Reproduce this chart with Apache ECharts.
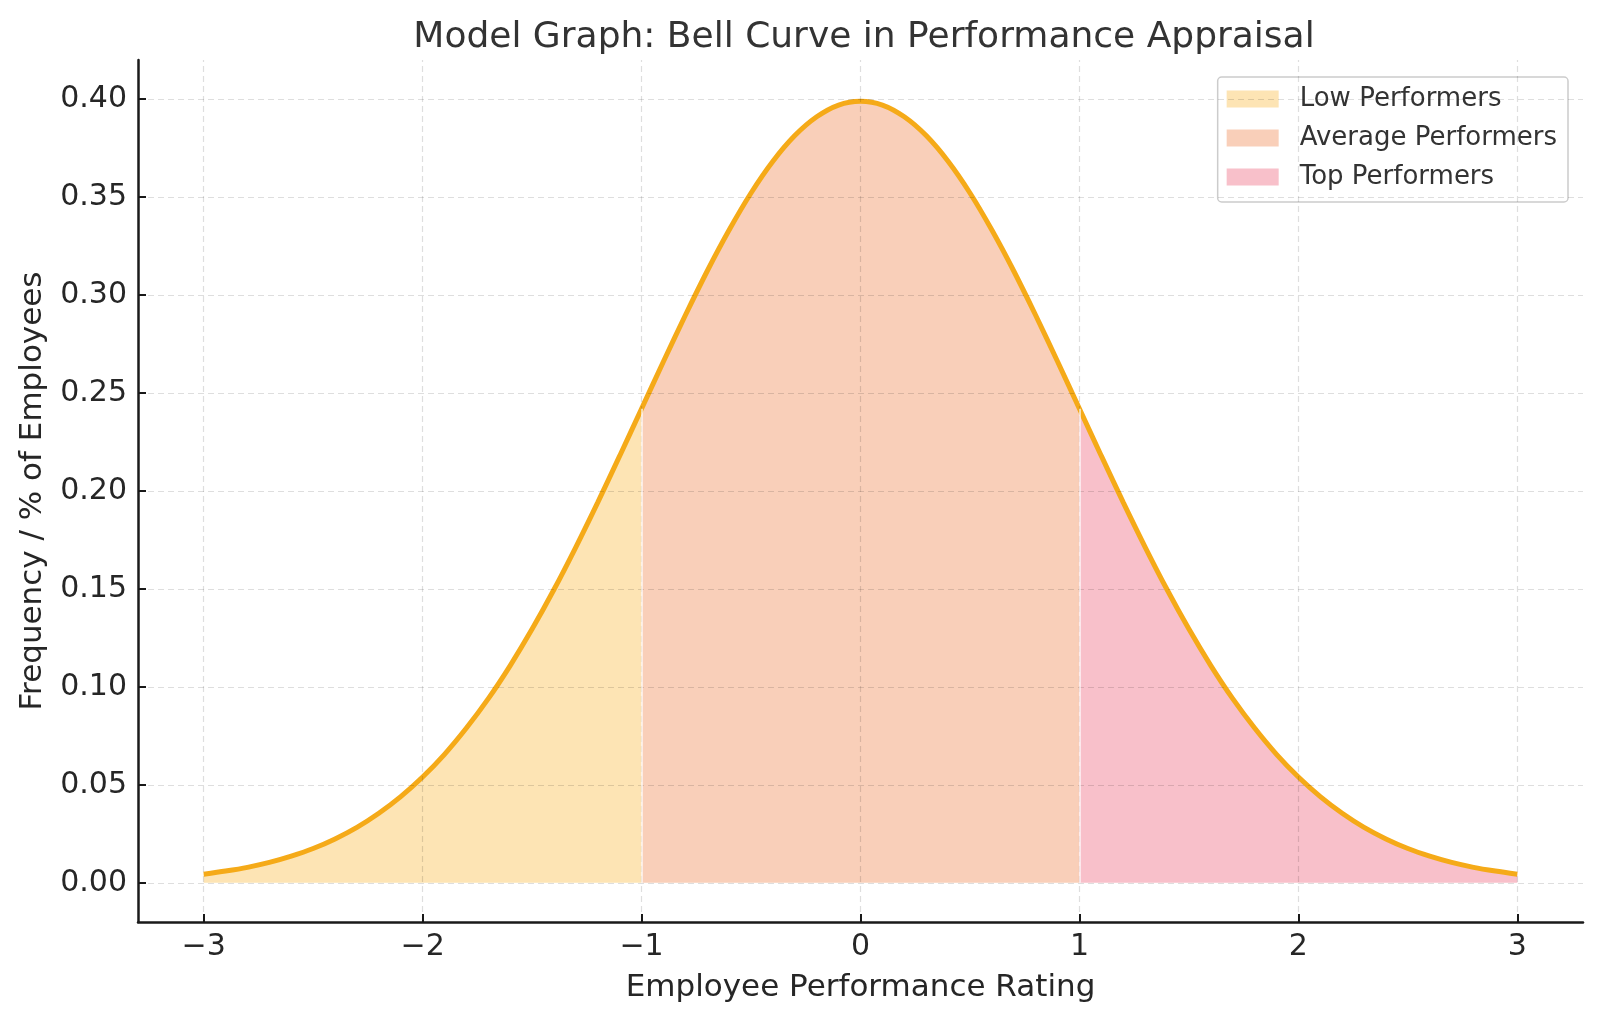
<!DOCTYPE html>
<html>
<head>
<meta charset="utf-8">
<script src="https://cdn.jsdelivr.net/npm/echarts@6/dist/echarts.min.js"></script>
<style>
html,body{margin:0;padding:0;background:#fff;}
#chart{width:1600px;height:1022px;}
</style>
</head>
<body>
<div id="chart"></div>
<script>
// Employee performance rating (x) and share of employees (y)
const ratings = [-3.0,-2.9,-2.8,-2.7,-2.6,-2.5,-2.4,-2.3,-2.2,-2.1,-2.0,-1.9,-1.8,-1.7,-1.6,-1.5,-1.4,-1.3,-1.2,-1.1,-1.0,
  -0.9,-0.8,-0.7,-0.6,-0.5,-0.4,-0.3,-0.2,-0.1,0.0,0.1,0.2,0.3,0.4,0.5,0.6,0.7,0.8,0.9,1.0,
  1.1,1.2,1.3,1.4,1.5,1.6,1.7,1.8,1.9,2.0,2.1,2.2,2.3,2.4,2.5,2.6,2.7,2.8,2.9,3.0];
const density = [0.0044,0.0060,0.0079,0.0104,0.0136,0.0175,0.0224,0.0283,0.0355,0.0440,0.0540,0.0656,0.0790,0.0940,0.1109,0.1295,0.1497,0.1714,0.1942,0.2179,0.2420,
  0.2661,0.2897,0.3123,0.3332,0.3521,0.3683,0.3814,0.3910,0.3970,0.3989,0.3970,0.3910,0.3814,0.3683,0.3521,0.3332,0.3123,0.2897,0.2661,0.2420,
  0.2179,0.1942,0.1714,0.1497,0.1295,0.1109,0.0940,0.0790,0.0656,0.0540,0.0440,0.0355,0.0283,0.0224,0.0175,0.0136,0.0104,0.0079,0.0060,0.0044];
const groupNames = ['Low Performers', 'Average Performers', 'Top Performers'];
const groupBounds = [-1, 1];          // rating boundaries between groups
const xTicks = [-3, -2, -1, 0, 1, 2, 3];
const yTicks = [0, 0.05, 0.10, 0.15, 0.20, 0.25, 0.30, 0.35, 0.40];

const points = ratings.map((x, i) => [x, density[i]]);
const iLow = ratings.indexOf(groupBounds[0]);
const iHigh = ratings.indexOf(groupBounds[1]);
const groupData = [points.slice(0, iLow + 1), points.slice(iLow, iHigh + 1), points.slice(iHigh)];
const fillColors = ['rgba(251,201,105,0.5)', 'rgba(243,159,115,0.5)', 'rgba(241,129,149,0.5)'];

const FONT = "'DejaVu Sans', sans-serif";
const TXT = '#262626';

const fillSeries = groupNames.map((name, k) => ({
  name: name,
  type: 'line',
  data: groupData[k],
  symbol: 'none',
  silent: true,
  z: 1,
  lineStyle: { width: 0, color: fillColors[k] },
  itemStyle: { color: fillColors[k] },
  areaStyle: { color: fillColors[k], opacity: 1, origin: 0 }
}));

const gridLineStyle = { type: [6, 4], color: 'rgba(0,0,0,0.13)', width: 1.2 };
const gridMarks = [
  ...xTicks.map(v => ({ xAxis: v, lineStyle: gridLineStyle })),
  ...yTicks.map(v => ({ yAxis: v, lineStyle: gridLineStyle })),
  ...groupBounds.map(b => [
    { coord: [b, 0], lineStyle: { type: 'solid', color: 'rgba(255,255,255,0.85)', width: 1.5 } },
    { coord: [b, density[ratings.indexOf(b)]] }
  ])
];

const option = {
  animation: false,
  backgroundColor: '#ffffff',
  title: {
    text: 'Model Graph: Bell Curve in Performance Appraisal',
    left: 859,
    top: 15,
    textAlign: 'center',
    textStyle: { fontFamily: FONT, fontSize: 36, fontWeight: 'normal', color: '#333333' }
  },
  legend: {
    data: groupNames,
    orient: 'vertical',
    right: 32,
    top: 77,
    icon: 'rect',
    itemWidth: 52,
    itemHeight: 17,
    itemGap: 13,
    padding: [9, 11, 12, 9],
    borderColor: '#cccccc',
    borderWidth: 1.5,
    borderRadius: 4,
    backgroundColor: 'rgba(255,255,255,0.8)',
    textStyle: { fontFamily: FONT, fontSize: 26, lineHeight: 26, color: '#333333', padding: [0, 0, 0, 16] }
  },
  grid: { left: 138, right: 17, top: 60, bottom: 100, containLabel: false },
  xAxis: {
    type: 'value',
    min: -3.3,
    max: 3.3,
    name: 'Employee Performance Rating',
    nameLocation: 'middle',
    nameGap: 50,
    nameTextStyle: { fontFamily: FONT, fontSize: 31, color: TXT },
    axisLine: { show: true, onZero: false, lineStyle: { color: '#1a1a1a', width: 2.5 } },
    axisTick: { show: true, inside: true, length: 8, customValues: xTicks, lineStyle: { color: '#1a1a1a', width: 2 } },
    axisLabel: {
      customValues: xTicks,
      margin: 10,
      fontFamily: FONT, fontSize: 30, color: TXT,
      formatter: v => String(v).replace('-', '\u2212')
    },
    splitLine: { show: false }
  },
  yAxis: {
    type: 'value',
    min: -0.02,
    max: 0.42,
    name: 'Frequency / % of Employees',
    nameLocation: 'middle',
    nameGap: 90,
    nameTextStyle: { fontFamily: FONT, fontSize: 31, color: TXT },
    axisLine: { show: true, onZero: false, lineStyle: { color: '#1a1a1a', width: 2.5 } },
    axisTick: { show: true, inside: true, length: 8, customValues: yTicks, lineStyle: { color: '#1a1a1a', width: 2 } },
    axisLabel: {
      customValues: yTicks,
      margin: 11,
      fontFamily: FONT, fontSize: 30, color: TXT,
      formatter: v => v.toFixed(2)
    },
    splitLine: { show: false }
  },
  series: [
    ...fillSeries,
    {
      name: 'grid',
      type: 'line',
      data: points,
      symbol: 'none',
      silent: true,
      z: 2,
      lineStyle: { opacity: 0 },
      markLine: { silent: true, symbol: 'none', label: { show: false }, animation: false, data: gridMarks }
    },
    {
      name: 'curve',
      type: 'line',
      data: points,
      symbol: 'none',
      smooth: 0.3,
      silent: true,
      z: 3,
      lineStyle: { color: '#F5AA18', width: 5 }
    }
  ]
};

const chart = echarts.init(document.getElementById('chart'), null, { renderer: 'canvas', width: 1600, height: 1022 });
chart.setOption(option);
</script>
</body>
</html>
